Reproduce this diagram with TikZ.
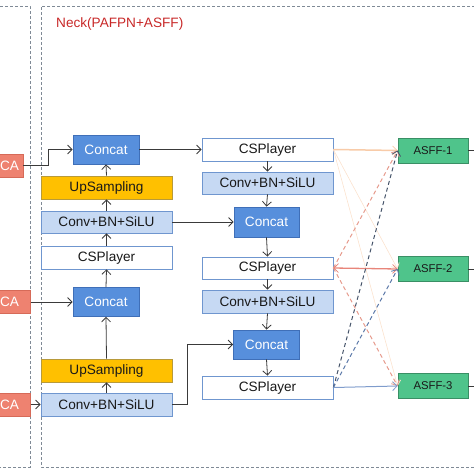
\documentclass[tikz,border=0pt]{standalone}
\usepackage{fontspec}
\setmainfont{Liberation Sans}
\usetikzlibrary{arrows.meta}
\definecolor{concatfill}{HTML}{578FDC}
\definecolor{concatline}{HTML}{3F6FB8}
\definecolor{convfill}{HTML}{C6D9F3}
\definecolor{convline}{HTML}{6F96CF}
\definecolor{upfill}{HTML}{FFC000}
\definecolor{upline}{HTML}{B89A3A}
\definecolor{cafill}{HTML}{EE8270}
\definecolor{caline}{HTML}{D66A58}
\definecolor{asfffill}{HTML}{4FC48B}
\definecolor{asffline}{HTML}{3A8F65}
\definecolor{boxdash}{HTML}{7F8A96}
\definecolor{arr}{HTML}{3A3A3A}
\definecolor{peach}{HTML}{F8CBA8}
\definecolor{lpeach}{HTML}{FBE2CE}
\definecolor{redl}{HTML}{E8857A}
\definecolor{redd}{HTML}{E69A8C}
\definecolor{bluel}{HTML}{7F9CCC}
\definecolor{darkd}{HTML}{46546A}
\definecolor{blued}{HTML}{5B78A8}
\definecolor{necktext}{HTML}{C82828}
\tikzset{
  base/.style={draw, line width=0.8pt, inner sep=0pt, font=\fontsize{13.6}{16}\selectfont, text=black!90},
  wide/.style={base, minimum width=131pt, minimum height=23pt},
  concatbox/.style={base, fill=concatfill, draw=concatline, text=white, minimum width=66pt, minimum height=29pt},
  convbox/.style={wide, fill=convfill, draw=convline},
  upbox/.style={wide, fill=upfill, draw=upline},
  cspbox/.style={wide, fill=white, draw=convline},
  cabox/.style={base, fill=cafill, draw=caline, text=white, minimum width=42pt, minimum height=23pt},
  asffbox/.style={base, fill=asfffill, draw=asffline, minimum width=70pt, minimum height=25pt, font=\fontsize{11.3}{13}\selectfont},
  frame/.style={draw=boxdash, line width=0.8pt, dash pattern=on 3pt off 2pt},
  barb/.tip={Straight Barb[length=4.5pt,width=9pt,line width=0.8pt]},
  tip/.style={-barb},
  conn/.style={tip, draw=arr, line width=0.8pt},
  cdash/.style={dash pattern=on 4pt off 3pt},
}
\begin{document}
\begin{tikzpicture}[x=1pt,y=-1pt]
\useasboundingbox (0,0) rectangle (474,474);
\clip (0,0) rectangle (474,474);
% frames
\draw[frame] (-10,6) -- (30,6) -- (30,467) -- (-10,467);
\draw[frame] (480,6) -- (41,6) -- (41,467) -- (480,467);
\node[anchor=west, text=necktext, inner sep=0pt, font=\fontsize{13.6}{16}\selectfont] (neck) at (56,24) {Neck(PAFPN+ASFF)};
% CA boxes
\node[cabox, minimum width=27pt] (ca1) at (9.5,165.5) {CA};
\node[cabox] (ca2) at (9.5,302) {CA};
\node[cabox] (ca3) at (9.5,404.5) {CA};
% column 1
\node[concatbox] (cc1) at (106,149.5) {Concat};
\node[upbox] (up1) at (106.5,187.5) {UpSampling};
\node[convbox, minimum height=22pt] (cv1) at (106.5,222) {Conv+BN+SiLU};
\node[cspbox] (csl) at (106.5,257.5) {CSPlayer};
\node[concatbox] (cc2) at (106,302) {Concat};
\node[upbox] (up2) at (106.5,370.5) {UpSampling};
\node[convbox] (cv2) at (106.5,404.5) {Conv+BN+SiLU};
% column 2
\node[cspbox] (p1) at (267.5,149.5) {CSPlayer};
\node[convbox, minimum height=22pt] (k1) at (267.5,183) {Conv+BN+SiLU};
\node[concatbox, minimum width=65pt, minimum height=30pt] (m1) at (266.5,222) {Concat};
\node[cspbox, minimum height=22pt] (p2) at (267.5,268) {CSPlayer};
\node[convbox] (k2) at (267.5,301.5) {Conv+BN+SiLU};
\node[concatbox] (m2) at (266.5,344.5) {Concat};
\node[cspbox] (p3) at (267.5,387.5) {CSPlayer};
% ASFF
\node[asffbox] (a1) at (433,150.5) {ASFF-1};
\node[asffbox] (a2) at (433,269) {ASFF-2};
\node[asffbox] (a3) at (433,386) {ASFF-3};
\coordinate (o1) at (480,150.5);
\coordinate (o2) at (480,269);
\coordinate (o3) at (480,386);
\draw[arr, line width=0.8pt] (a1.east) -- (o1);
\draw[arr, line width=0.8pt] (a2.east) -- (o2);
\draw[arr, line width=0.8pt] (a3.east) -- (o3);
% connectors column 1
\draw[conn] (ca1.east) -- (48,165.5) -- (48,149.5) -- (cc1.west);
\draw[conn] (ca2.east) -- (cc2.west);
\draw[conn] (ca3.east) -- (cv2.west);
\draw[conn] (cv1.north) -- (up1.south);
\draw[conn] (up1.north) -- (cc1.south);
\draw[conn] (csl.north) -- (cv1.south);
\draw[conn] (cc2.north) -- (csl.south);
\draw[conn] (up2.north) -- (cc2.south);
\draw[conn] (cv2.north) -- (up2.south);
% cross connectors
\draw[conn] (cc1.east) -- (p1.west);
\draw[conn] (cv1.east) -- (m1.west);
\draw[conn] (cv2.east) -- (187,404.5) -- (187,344.5) -- (m2.west);
% column 2
\draw[conn] (p1.south) -- (k1.north);
\draw[conn] (k1.south) -- (m1.north);
\draw[conn] (m1.south) -- (p2.north);
\draw[conn] (p2.south) -- (k2.north);
\draw[conn] (k2.south) -- (m2.north);
\draw[conn] (m2.south) -- (p3.north);
% to ASFF
\draw[tip, draw=lpeach, line width=0.6pt] (p1.east) -- (a2.west);
\draw[tip, draw=lpeach, line width=0.6pt] (p1.east) -- (a3.west);
\draw[tip, draw=peach, line width=1.5pt] (p1.east) -- (a1.west);
\draw[tip, draw=redd, line width=1pt, cdash] (p2.east) -- (a1.west);
\draw[tip, draw=redd, line width=1pt, cdash] (p2.east) -- (a3.west);
\draw[barb-barb, draw=redl, line width=1.3pt] (p2.east) -- (a2.west);
\draw[tip, draw=darkd, line width=1pt, cdash] (p3.east) -- (a1.west);
\draw[tip, draw=blued, line width=1pt, cdash] (p3.east) -- (a2.west);
\draw[tip, draw=bluel, line width=1pt] (p3.east) -- (a3.west);
\end{tikzpicture}
\end{document}
